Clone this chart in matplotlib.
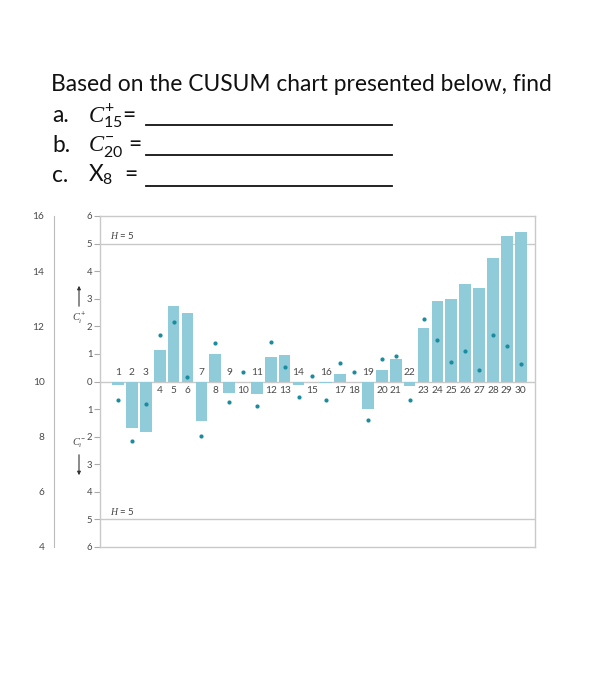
"""
CUSUM chart worksheet (C+ / C- bars with the x_i dots)
"""
import matplotlib
matplotlib.use("Agg")
import matplotlib.pyplot as plt
from matplotlib.lines import Line2D

plt.rcParams['font.family'] = ['Lato', 'DejaVu Sans']
plt.rcParams['mathtext.fontset'] = 'custom'
plt.rcParams['mathtext.rm'] = 'Lato'
plt.rcParams['mathtext.it'] = 'Liberation Serif:italic'

# data
samples = list(range(1, 31))
# bars: C+ upwards, C- downwards (stored negative)
cusum = [-0.12, -1.67, -1.84, 1.14, 2.74, 2.48, -1.43, 0.98, -0.40, 0.0,
         -0.45, 0.89, 0.95, -0.12, 0.0, -0.04, 0.27, 0.0, -0.99, 0.40,
         0.83, -0.15, 1.93, 2.91, 3.00, 3.54, 3.38, 4.47, 5.29, 5.42]
# observations x_i, read on the outer (left) scale
xi = [9.34, 7.86, 9.19, 11.70, 12.17, 10.16, 8.04, 11.39, 9.24, 10.35,
      9.12, 11.44, 10.51, 9.43, 10.21, 9.34, 10.66, 10.36, 8.60, 10.83,
      10.93, 9.34, 12.28, 11.52, 10.69, 11.10, 10.40, 11.67, 11.28, 10.62]
inner_ticks = list(range(-6, 7))
outer_ticks = [4, 6, 8, 10, 12, 14, 16]
H = 5

title = "Based on the CUSUM chart presented below, find"
questions = [("a.", r"$C_{15}^{+}$="),
             ("b.", r"$C_{20}^{-}$ ="),
             ("c.", r"X$_{8}$  =")]

W, Hpx = 595, 700
BAR = '#8fcbd8'
DOT = '#1b8c9e'
GRID = '#c9c9c9'
TXT = '#4a4a4a'


def fx(px):
    return px / W


def fy(py):
    return 1 - py / Hpx


fig = plt.figure(figsize=(W / 100, Hpx / 100), dpi=100)

# ---- question text ----
t = fig.text(fx(51), fy(91), title, fontsize=18, va='baseline', color='#111111')
fig.canvas.draw()
w = t.get_window_extent().width
size = 18 * 497 / w
t.set_fontsize(size)

baselines = [122, 152, 182]
underline_y = [124.5, 154.5, 185.5]
for (lab, expr), yb, yu in zip(questions, baselines, underline_y):
    fig.text(fx(52), fy(yb), lab, fontsize=size, va='baseline', color='#111111')
    fig.text(fx(88), fy(yb), expr, fontsize=size, va='baseline', color='#111111')
    fig.add_artist(Line2D([fx(146), fx(392)], [fy(yu), fy(yu)],
                          transform=fig.transFigure, color='#111111', lw=1.3))

# ---- chart ----
ax = fig.add_axes([fx(100), fy(547), fx(535) - fx(100), fy(216) - fy(547)])
ax.set_xlim(-0.3, 31.03)
ax.set_ylim(-6, 6)

ax.bar(samples, cusum, width=0.84, color=BAR, zorder=2)
ax.axhline(0, color=GRID, lw=1, zorder=1)
ax.axhline(H, color=GRID, lw=1, zorder=1)
ax.axhline(-H, color=GRID, lw=1, zorder=1)
ax.text(0.42, H + 0.08, "$H$ = 5", fontsize=7, color='#444444', va='bottom')
ax.text(0.42, -H + 0.08, "$H$ = 5", fontsize=7, color='#444444', va='bottom')

for s, c in zip(samples, cusum):
    yy = 0.32 if c < 0 else -0.32
    ax.text(s, yy, str(s), ha='center', va='center', fontsize=7.3,
            color=TXT, zorder=4)

ax.set_xticks([])
ax.set_yticks(inner_ticks)
ax.set_yticklabels([str(abs(v)) for v in inner_ticks])
ax.tick_params(axis='y', length=4, width=0.8, color='#aaaaaa',
               labelsize=6.8, labelcolor=TXT, pad=1.5)
for sp in ax.spines.values():
    sp.set_color(GRID)
    sp.set_linewidth(1)

# outer scale for the observations
ax2 = ax.twinx()
ax2.set_ylim(4, 16)
ax2.yaxis.set_ticks_position('left')
ax2.yaxis.set_label_position('left')
ax2.spines['left'].set_position(('outward', 33))
for k in ['right', 'top', 'bottom']:
    ax2.spines[k].set_visible(False)
ax2.spines['left'].set_color('#bbbbbb')
ax2.set_yticks(outer_ticks)
ax2.set_yticks([10], minor=True)
ax2.tick_params(axis='y', which='major', length=0, labelsize=7.3,
                labelcolor=TXT, pad=7)
ax2.tick_params(axis='y', which='minor', length=10, width=0.8,
                direction='inout', color='#aaaaaa')
ax2.scatter(samples, xi, s=9, color=DOT, zorder=3, linewidths=0)

# C+ / C- side labels with arrows
fig.text(fx(79), fy(318), r"$C_i^+$", fontsize=7.5, color='#444444',
         ha='center', va='center')
fig.text(fx(79), fy(443), r"$C_i^-$", fontsize=7.5, color='#444444',
         ha='center', va='center')
arrow = dict(arrowstyle='-|>', color='#333333', lw=0.8, mutation_scale=5)
ax.annotate('', xy=(79, Hpx - 283), xytext=(79, Hpx - 309),
            xycoords='figure pixels', textcoords='figure pixels',
            arrowprops=arrow)
ax.annotate('', xy=(79, Hpx - 478), xytext=(79, Hpx - 452),
            xycoords='figure pixels', textcoords='figure pixels',
            arrowprops=arrow)

fig.savefig("out.png", dpi=100)
